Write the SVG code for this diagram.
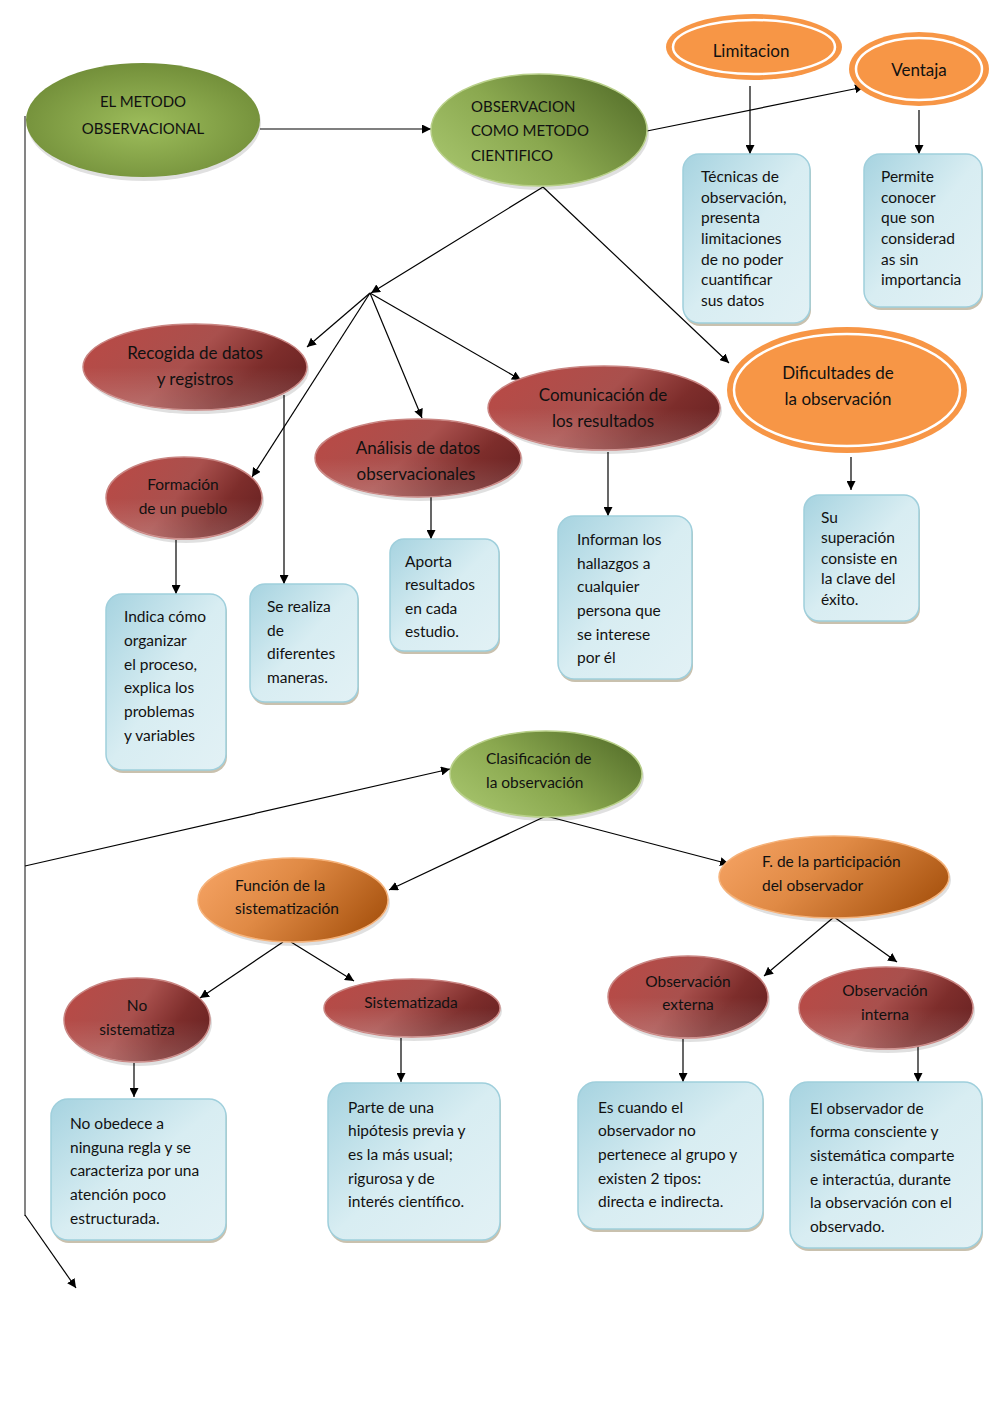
<svg xmlns="http://www.w3.org/2000/svg" width="1000" height="1415" viewBox="0 0 1000 1415">
<defs>
  <radialGradient id="gMain" cx="0.5" cy="0.55" r="0.6">
    <stop offset="0" stop-color="#9dbd5b"/>
    <stop offset="1" stop-color="#6f8b37"/>
  </radialGradient>
  <linearGradient id="gGreen" x1="0" y1="0.8" x2="1" y2="0.2">
    <stop offset="0" stop-color="#a6c46c"/>
    <stop offset="0.45" stop-color="#8aa84f"/>
    <stop offset="1" stop-color="#56702b"/>
  </linearGradient>
  <linearGradient id="gRed" x1="0" y1="0.3" x2="1" y2="0.7">
    <stop offset="0" stop-color="#b84a46"/>
    <stop offset="0.45" stop-color="#a9504d"/>
    <stop offset="0.75" stop-color="#7d2d2b"/>
    <stop offset="1" stop-color="#6a2323"/>
  </linearGradient>
  <linearGradient id="gRedHi" x1="0" y1="0" x2="0" y2="1">
    <stop offset="0.5" stop-color="#ffffff" stop-opacity="0"/>
    <stop offset="1" stop-color="#ffffff" stop-opacity="0.18"/>
  </linearGradient>
  <linearGradient id="gOr" x1="0" y1="0.3" x2="1" y2="0.7">
    <stop offset="0" stop-color="#f3a060"/>
    <stop offset="0.4" stop-color="#e08a45"/>
    <stop offset="1" stop-color="#a8530f"/>
  </linearGradient>
  <linearGradient id="gBox" x1="0" y1="0" x2="1" y2="1">
    <stop offset="0" stop-color="#a6d3e0"/>
    <stop offset="0.5" stop-color="#d8edf2"/>
    <stop offset="1" stop-color="#e2f1f5"/>
  </linearGradient>
  <marker id="ah" viewBox="0 0 10 10" refX="10" refY="5" markerWidth="9" markerHeight="9" markerUnits="userSpaceOnUse" orient="auto">
    <path d="M0,0 L10,5 L0,10 z" fill="#000"/>
  </marker>
</defs>
<style>
  .t { font-family: "Lato", "Liberation Sans", sans-serif; font-size: 15.5px; fill: #111; }
  .tl { font-family: "Lato", "Liberation Sans", sans-serif; font-size: 17px; fill: #111; }
  .tu { font-family: "Lato", "Liberation Sans", sans-serif; font-size: 15px; fill: #111; }
  .c { text-anchor: middle; }
  .box { fill: url(#gBox); stroke: #9fcfdc; stroke-width: 1.5; }
  .sh { fill: #c9c1ae; }
  .red { fill: url(#gRed); stroke: #c98582; stroke-width: 1.5; }
  .grn { fill: url(#gGreen); stroke: #b9d08a; stroke-width: 1.5; }
  .org { fill: url(#gOr); stroke: #f5b27a; stroke-width: 1.5; }
  .ring { fill: #f79646; }
  .ringw { fill: none; stroke: #ffffff; stroke-width: 2.5; }
  .esh { fill: #000; opacity: 0.12; }
  .con line, .con path { stroke: #000; stroke-width: 1.2; fill: none; }
  .con .a { marker-end: url(#ah); }
</style>
<rect width="1000" height="1415" fill="#ffffff"/>

<g class="con">
  <line class="a" x1="260" y1="129" x2="431" y2="129"/>
  <line class="a" x1="647" y1="131" x2="864" y2="87"/>
  <line class="a" x1="750" y1="86" x2="750" y2="154"/>
  <line class="a" x1="919" y1="110" x2="919" y2="154"/>
  <line class="a" x1="543" y1="187" x2="371" y2="293"/>
  <line class="a" x1="370" y1="293" x2="307" y2="347"/>
  <line class="a" x1="370" y1="293" x2="252" y2="477"/>
  <line class="a" x1="370" y1="293" x2="422" y2="418"/>
  <line class="a" x1="370" y1="293" x2="521" y2="380"/>
  <line class="a" x1="543" y1="187" x2="729" y2="363"/>
  <line class="a" x1="284" y1="395" x2="284" y2="584"/>
  <line class="a" x1="176" y1="540" x2="176" y2="594"/>
  <line class="a" x1="431" y1="497" x2="431" y2="539"/>
  <line class="a" x1="608" y1="452" x2="608" y2="516"/>
  <line class="a" x1="851" y1="457" x2="851" y2="490"/>
  <line x1="25" y1="116" x2="25" y2="1216" style="stroke:#777;stroke-width:1.8"/>
  <line class="a" x1="25" y1="1215" x2="76" y2="1288"/>
  <line class="a" x1="25" y1="866" x2="450" y2="769"/>
  <line class="a" x1="546" y1="816" x2="389" y2="890"/>
  <line class="a" x1="546" y1="816" x2="729" y2="864"/>
  <line class="a" x1="283" y1="942" x2="200" y2="998"/>
  <line class="a" x1="291" y1="942" x2="354" y2="981"/>
  <line class="a" x1="834" y1="917" x2="764" y2="976"/>
  <line class="a" x1="834" y1="917" x2="897" y2="962"/>
  <line class="a" x1="134" y1="1063" x2="134" y2="1097"/>
  <line class="a" x1="401" y1="1038" x2="401" y2="1082"/>
  <line class="a" x1="683" y1="1039" x2="683" y2="1082"/>
  <line class="a" x1="918" y1="1045" x2="918" y2="1082"/>
</g>

<g id="metodo">
  <ellipse class="esh" cx="144" cy="123" rx="117" ry="58"/>
  <ellipse cx="143" cy="120" rx="117" ry="57" fill="url(#gMain)"/>
  <text class="tu c" x="143" y="107">EL METODO</text>
  <text class="tu c" x="143" y="134">OBSERVACIONAL</text>
</g>

<g id="observacion">
  <ellipse class="esh" cx="541" cy="133" rx="108" ry="57"/>
  <ellipse class="grn" cx="539" cy="130" rx="108" ry="56"/>
  <text class="tu" x="471" y="112">OBSERVACION</text>
  <text class="tu" x="471" y="136">COMO METODO</text>
  <text class="tu" x="471" y="161">CIENTIFICO</text>
</g>

<g id="limitacion">
  <ellipse class="ring" cx="754" cy="47" rx="88" ry="33"/>
  <ellipse class="ringw" cx="754" cy="47" rx="81" ry="27"/>
  <text class="tl c" x="751" y="57">Limitacion</text>
</g>

<g id="ventaja">
  <ellipse class="ring" cx="919" cy="69" rx="70" ry="37"/>
  <ellipse class="ringw" cx="919" cy="69" rx="63" ry="31"/>
  <text class="tl c" x="919" y="76">Ventaja</text>
</g>

<g id="tecnicas">
  <rect class="sh" x="684" y="157" width="127" height="169" rx="16"/>
  <rect class="box" x="683" y="154" width="127" height="169" rx="16"/>
  <text class="t" x="701" y="182">Técnicas de</text>
  <text class="t" x="701" y="203">observación,</text>
  <text class="t" x="701" y="223">presenta</text>
  <text class="t" x="701" y="244">limitaciones</text>
  <text class="t" x="701" y="265">de no poder</text>
  <text class="t" x="701" y="285">cuantificar</text>
  <text class="t" x="701" y="306">sus datos</text>
</g>

<g id="permite">
  <rect class="sh" x="865" y="157" width="118" height="153" rx="16"/>
  <rect class="box" x="864" y="154" width="118" height="153" rx="16"/>
  <text class="t" x="881" y="182">Permite</text>
  <text class="t" x="881" y="203">conocer</text>
  <text class="t" x="881" y="223">que son</text>
  <text class="t" x="881" y="244">considerad</text>
  <text class="t" x="881" y="265">as sin</text>
  <text class="t" x="881" y="285">importancia</text>
</g>

<g id="recogida">
  <ellipse class="esh" cx="197" cy="370" rx="112" ry="44"/>
  <ellipse class="red" cx="195" cy="367" rx="112" ry="43"/>
  <ellipse cx="195" cy="367" rx="112" ry="43" fill="url(#gRedHi)"/>
  <text class="tl c" x="195" y="359">Recogida de datos</text>
  <text class="tl c" x="195" y="385">y registros</text>
</g>

<g id="comunicacion">
  <ellipse class="esh" cx="606" cy="411" rx="116" ry="43"/>
  <ellipse class="red" cx="604" cy="408" rx="116" ry="42"/>
  <ellipse cx="604" cy="408" rx="116" ry="42" fill="url(#gRedHi)"/>
  <text class="tl c" x="603" y="401">Comunicación de</text>
  <text class="tl c" x="603" y="427">los resultados</text>
</g>

<g id="dificultades">
  <ellipse class="ring" cx="847" cy="390" rx="120" ry="63"/>
  <ellipse class="ringw" cx="847" cy="390" rx="113" ry="56"/>
  <text class="tl c" x="838" y="379">Dificultades de</text>
  <text class="tl c" x="838" y="405">la observación</text>
</g>

<g id="analisis">
  <ellipse class="esh" cx="420" cy="461" rx="103" ry="40"/>
  <ellipse class="red" cx="418" cy="458" rx="103" ry="39"/>
  <ellipse cx="418" cy="458" rx="103" ry="39" fill="url(#gRedHi)"/>
  <text class="tl c" x="418" y="454">Análisis de datos</text>
  <text class="tl c" x="416" y="480">observacionales</text>
</g>

<g id="formacion">
  <ellipse class="esh" cx="186" cy="501" rx="78" ry="42"/>
  <ellipse class="red" cx="184" cy="498" rx="78" ry="41"/>
  <ellipse cx="184" cy="498" rx="78" ry="41" fill="url(#gRedHi)"/>
  <text class="t c" x="183" y="490">Formación</text>
  <text class="t c" x="183" y="514">de un pueblo</text>
</g>

<g id="aporta">
  <rect class="sh" x="391" y="542" width="109" height="112" rx="14"/>
  <rect class="box" x="390" y="539" width="109" height="112" rx="14"/>
  <text class="t" x="405" y="567">Aporta</text>
  <text class="t" x="405" y="590">resultados</text>
  <text class="t" x="405" y="614">en cada</text>
  <text class="t" x="405" y="637">estudio.</text>
</g>

<g id="informan">
  <rect class="sh" x="559" y="519" width="134" height="163" rx="16"/>
  <rect class="box" x="558" y="516" width="134" height="163" rx="16"/>
  <text class="t" x="577" y="545">Informan los</text>
  <text class="t" x="577" y="569">hallazgos a</text>
  <text class="t" x="577" y="592">cualquier</text>
  <text class="t" x="577" y="616">persona que</text>
  <text class="t" x="577" y="640">se interese</text>
  <text class="t" x="577" y="663">por él</text>
</g>

<g id="superacion">
  <rect class="sh" x="805" y="498" width="115" height="126" rx="15"/>
  <rect class="box" x="804" y="495" width="115" height="126" rx="15"/>
  <text class="t" x="821" y="523">Su</text>
  <text class="t" x="821" y="543">superación</text>
  <text class="t" x="821" y="564">consiste en</text>
  <text class="t" x="821" y="584">la clave del</text>
  <text class="t" x="821" y="605">éxito.</text>
</g>

<g id="indica">
  <rect class="sh" x="107" y="597" width="120" height="176" rx="16"/>
  <rect class="box" x="106" y="594" width="120" height="176" rx="16"/>
  <text class="t" x="124" y="622">Indica cómo</text>
  <text class="t" x="124" y="646">organizar</text>
  <text class="t" x="124" y="670">el proceso,</text>
  <text class="t" x="124" y="693">explica los</text>
  <text class="t" x="124" y="717">problemas</text>
  <text class="t" x="124" y="741">y variables</text>
</g>

<g id="serealiza">
  <rect class="sh" x="251" y="587" width="108" height="118" rx="15"/>
  <rect class="box" x="250" y="584" width="108" height="118" rx="15"/>
  <text class="t" x="267" y="612">Se realiza</text>
  <text class="t" x="267" y="636">de</text>
  <text class="t" x="267" y="659">diferentes</text>
  <text class="t" x="267" y="683">maneras.</text>
</g>

<g id="clasificacion">
  <ellipse class="esh" cx="548" cy="777" rx="96" ry="44"/>
  <ellipse class="grn" cx="546" cy="774" rx="96" ry="43"/>
  <text class="t" x="486" y="764">Clasificación de</text>
  <text class="t" x="486" y="788">la observación</text>
</g>

<g id="funcion">
  <ellipse class="esh" cx="295" cy="903" rx="95" ry="43"/>
  <ellipse class="org" cx="293" cy="900" rx="95" ry="42"/>
  <text class="t" x="235" y="891">Función de la</text>
  <text class="t" x="235" y="914">sistematización</text>
</g>

<g id="participacion">
  <ellipse class="esh" cx="836" cy="880" rx="115" ry="42"/>
  <ellipse class="org" cx="834" cy="877" rx="115" ry="41"/>
  <text class="t" x="762" y="867">F. de la participación</text>
  <text class="t" x="762" y="891">del observador</text>
</g>

<g id="nosistematiza">
  <ellipse class="esh" cx="139" cy="1023" rx="73" ry="43"/>
  <ellipse class="red" cx="137" cy="1020" rx="73" ry="42"/>
  <ellipse cx="137" cy="1020" rx="73" ry="42" fill="url(#gRedHi)"/>
  <text class="t c" x="137" y="1011">No</text>
  <text class="t c" x="137" y="1035">sistematiza</text>
</g>

<g id="sistematizada">
  <ellipse class="esh" cx="414" cy="1011" rx="88" ry="30"/>
  <ellipse class="red" cx="412" cy="1008" rx="88" ry="29"/>
  <ellipse cx="412" cy="1008" rx="88" ry="29" fill="url(#gRedHi)"/>
  <text class="t c" x="411" y="1008">Sistematizada</text>
</g>

<g id="externa">
  <ellipse class="esh" cx="690" cy="1000" rx="80" ry="42"/>
  <ellipse class="red" cx="688" cy="997" rx="80" ry="41"/>
  <ellipse cx="688" cy="997" rx="80" ry="41" fill="url(#gRedHi)"/>
  <text class="t c" x="688" y="987">Observación</text>
  <text class="t c" x="688" y="1010">externa</text>
</g>

<g id="interna">
  <ellipse class="esh" cx="888" cy="1011" rx="87" ry="42"/>
  <ellipse class="red" cx="886" cy="1008" rx="87" ry="41"/>
  <ellipse cx="886" cy="1008" rx="87" ry="41" fill="url(#gRedHi)"/>
  <text class="t c" x="885" y="996">Observación</text>
  <text class="t c" x="885" y="1020">interna</text>
</g>

<g id="noobedece">
  <rect class="sh" x="52" y="1102" width="175" height="141" rx="17"/>
  <rect class="box" x="51" y="1099" width="175" height="141" rx="17"/>
  <text class="t" x="70" y="1129">No obedece a</text>
  <text class="t" x="70" y="1153">ninguna regla y se</text>
  <text class="t" x="70" y="1176">caracteriza por una</text>
  <text class="t" x="70" y="1200">atención poco</text>
  <text class="t" x="70" y="1224">estructurada.</text>
</g>

<g id="partede">
  <rect class="sh" x="329" y="1086" width="172" height="157" rx="18"/>
  <rect class="box" x="328" y="1083" width="172" height="157" rx="18"/>
  <text class="t" x="348" y="1113">Parte de una</text>
  <text class="t" x="348" y="1136">hipótesis previa y</text>
  <text class="t" x="348" y="1160">es la más usual;</text>
  <text class="t" x="348" y="1184">rigurosa y de</text>
  <text class="t" x="348" y="1207">interés científico.</text>
</g>

<g id="escuando">
  <rect class="sh" x="579" y="1085" width="185" height="147" rx="18"/>
  <rect class="box" x="578" y="1082" width="185" height="147" rx="18"/>
  <text class="t" x="598" y="1113">Es cuando el</text>
  <text class="t" x="598" y="1136">observador no</text>
  <text class="t" x="598" y="1160">pertenece al grupo  y</text>
  <text class="t" x="598" y="1184">existen 2 tipos:</text>
  <text class="t" x="598" y="1207">directa e indirecta.</text>
</g>

<g id="elobservador">
  <rect class="sh" x="791" y="1085" width="192" height="166" rx="18"/>
  <rect class="box" x="790" y="1082" width="192" height="166" rx="18"/>
  <text class="t" x="810" y="1114">El observador de</text>
  <text class="t" x="810" y="1137">forma consciente y</text>
  <text class="t" x="810" y="1161">sistemática comparte</text>
  <text class="t" x="810" y="1185">e interactúa, durante</text>
  <text class="t" x="810" y="1208">la observación con el</text>
  <text class="t" x="810" y="1232">observado.</text>
</g>
</svg>
